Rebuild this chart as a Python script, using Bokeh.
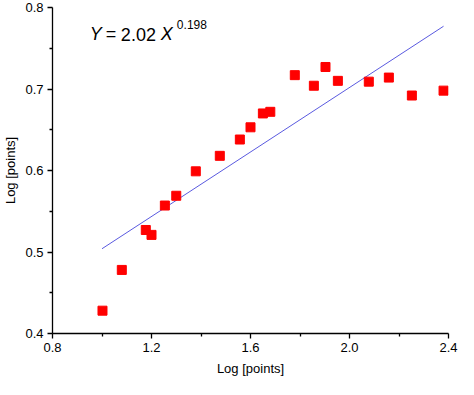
from bokeh.plotting import figure
from bokeh.models import Range1d, FixedTicker, PrintfTickFormatter, Label
from bokeh.embed import file_html
from bokeh.resources import INLINE

# Data
log_x = [1.002, 1.08, 1.177, 1.20, 1.254, 1.30, 1.379, 1.476, 1.557, 1.60,
         1.65, 1.68, 1.779, 1.856, 1.903, 1.953, 2.078, 2.159, 2.252, 2.38]
log_y = [0.428, 0.478, 0.527, 0.521, 0.557, 0.569, 0.599, 0.618, 0.638, 0.653,
         0.670, 0.672, 0.717, 0.704, 0.727, 0.710, 0.709, 0.714, 0.692, 0.698]
fit_x = [1.0, 2.38]
fit_y = [0.504, 0.777]

x_major = [0.8, 1.2, 1.6, 2.0, 2.4]
x_minor = [1.0, 1.4, 1.8, 2.2]
y_major = [0.4, 0.5, 0.6, 0.7, 0.8]
y_minor = [0.45, 0.55, 0.65, 0.75]

eq_coef = "2.02"
eq_exp = "0.198"

FONT = "Liberation Sans"

p = figure(width=458, height=379, output_backend="svg", toolbar_location=None,
           x_range=Range1d(0.8, 2.4), y_range=Range1d(0.4, 0.8),
           min_border_left=50, min_border_right=10, min_border_top=7, min_border_bottom=46)
p.outline_line_color = None
p.xgrid.visible = False
p.ygrid.visible = False
p.background_fill_color = "white"

p.line(fit_x, fit_y, line_color="#5a5ae0", line_width=1)
p.scatter(log_x, log_y, marker="square", size=9, fill_color="#ff0000", line_color="#ff0000")

p.xaxis.ticker = FixedTicker(ticks=x_major, minor_ticks=x_minor)
p.yaxis.ticker = FixedTicker(ticks=y_major, minor_ticks=y_minor)
p.xaxis.formatter = PrintfTickFormatter(format="%.1f")
p.yaxis.formatter = PrintfTickFormatter(format="%.1f")
p.xaxis.axis_label = "Log [points]"
p.yaxis.axis_label = "Log [points]"

for ax in (p.xaxis[0], p.yaxis[0]):
    ax.axis_line_color = "black"
    ax.axis_line_width = 1.3
    ax.major_tick_line_color = "black"
    ax.minor_tick_line_color = "black"
    ax.major_tick_line_width = 1.3
    ax.minor_tick_line_width = 1.3
    ax.major_tick_in = 0
    ax.major_tick_out = 5
    ax.minor_tick_in = 0
    ax.minor_tick_out = 3
    ax.major_label_text_font = FONT
    ax.major_label_text_font_size = "13px"
    ax.major_label_text_color = "black"
    ax.axis_label_text_font = FONT
    ax.axis_label_text_font_size = "13px"
    ax.axis_label_text_font_style = "normal"
    ax.axis_label_text_color = "black"

p.xaxis.major_label_standoff = 4
p.xaxis.axis_label_standoff = 6
p.yaxis.major_label_standoff = 4
p.yaxis.axis_label_standoff = 4

# Equation annotation
ex, ey = 0.951, 0.767
common = dict(x=ex, y=ey, text_font=FONT, text_color="black", text_baseline="alphabetic")
p.add_layout(Label(text="Y", text_font_size="18px", text_font_style="italic", **common))
p.add_layout(Label(text="=", x_offset=16, text_font_size="18px", **common))
p.add_layout(Label(text=eq_coef, x_offset=31, text_font_size="18px", **common))
p.add_layout(Label(text="X", x_offset=71, text_font_size="18px", text_font_style="italic", **common))
p.add_layout(Label(text=eq_exp, x_offset=87, y_offset=10, text_font_size="12px", **common))

open("out.html", "w").write(file_html(p, INLINE))
